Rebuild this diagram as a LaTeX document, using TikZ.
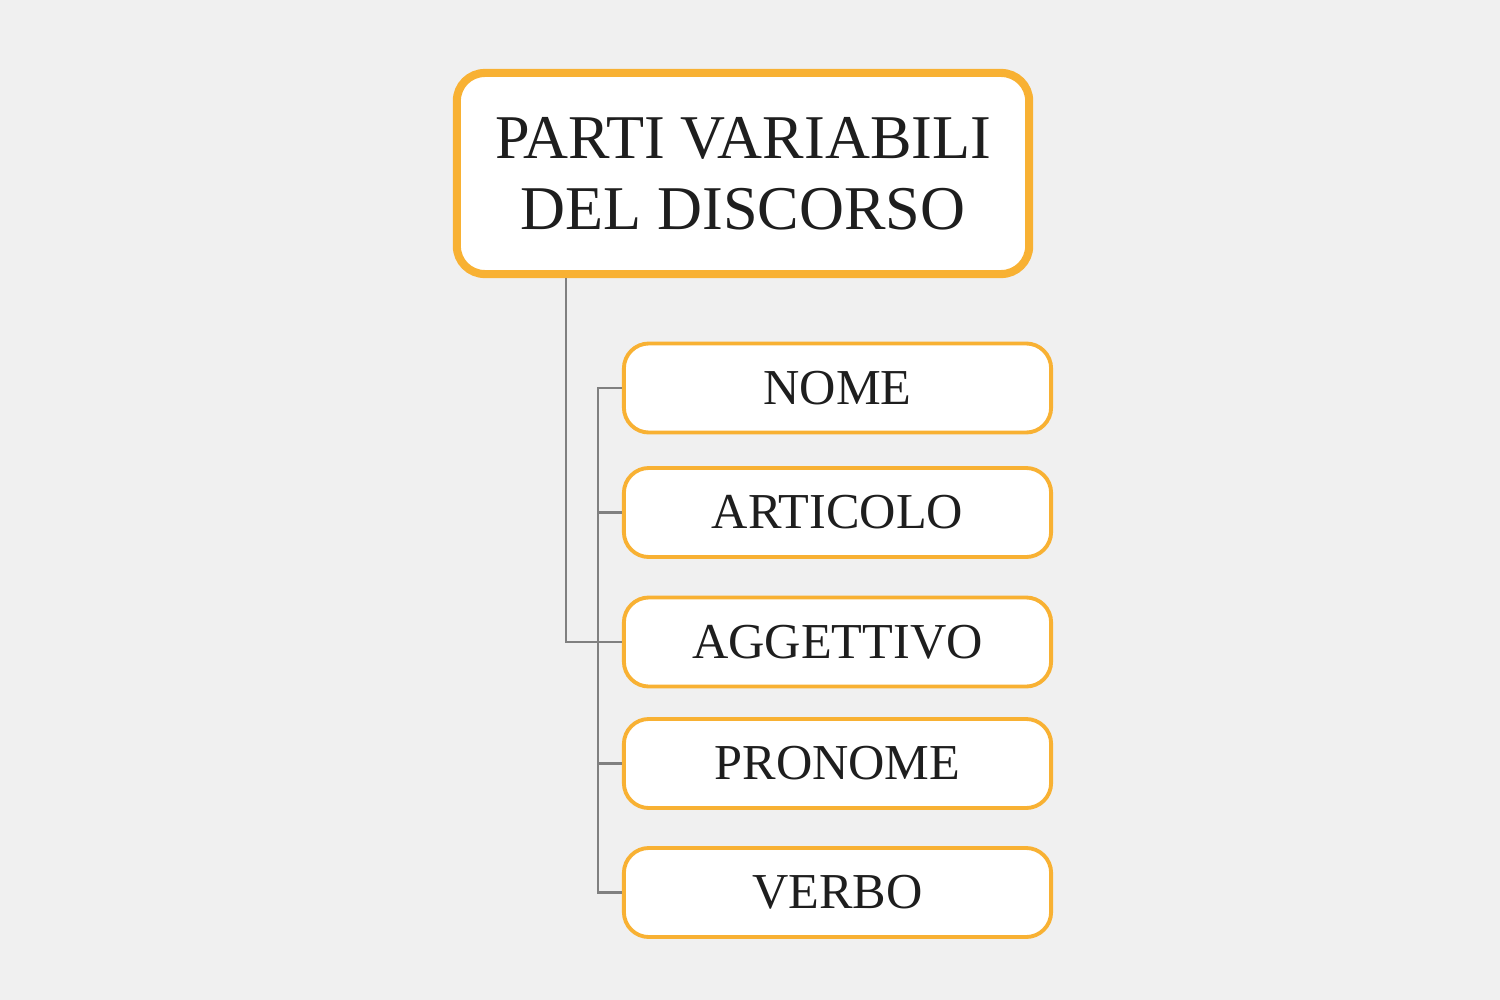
\documentclass[tikz,border=0pt]{standalone}
\usepackage{fontspec}
\setmainfont{Liberation Serif}
\definecolor{bg}{HTML}{F0F0F0}
\definecolor{orng}{HTML}{F8B133}
\definecolor{conn}{HTML}{808080}
\definecolor{ink}{HTML}{1E1E1E}
\begin{document}
\begin{tikzpicture}[x=0.01cm,y=-0.01cm,
  titlebox/.style={draw=orng,fill=white,line width=2.3pt,rounded corners=0.28cm,
    minimum width=5.72cm,minimum height=2.01cm,align=center,text=ink,
    font=\fontsize{17.7pt}{20.2pt}\selectfont,inner sep=0pt},
  itembox/.style={draw=orng,fill=white,line width=1.1pt,rounded corners=0.25cm,
    minimum width=4.27cm,minimum height=0.89cm,text=ink,
    font=\fontsize{14.3pt}{16pt}\selectfont,inner sep=0pt},
  link/.style={draw=conn,line width=0.6pt}]
\fill[bg] (0,0) rectangle (1500,1000);
\useasboundingbox (0,0) rectangle (1500,1000);
\coordinate (tx) at (566,0);
\coordinate (bx) at (598,0);
\node[titlebox] (top) at (743,173.5) {PARTI VARIABILI\\DEL DISCORSO};
\node[itembox] (nome) at (837.5,388) {NOME};
\node[itembox] (art) at (837.5,512.5) {ARTICOLO};
\node[itembox] (agg) at (837.5,642) {AGGETTIVO};
\node[itembox] (pro) at (837.5,763.5) {PRONOME};
\node[itembox] (verbo) at (837.5,892.5) {VERBO};
\draw[link] (top.south -| tx) |- (agg.west);
\draw[link] (nome.west) -- (nome.west -| bx) -- (verbo.west -| bx) -- (verbo.west);
\draw[link] (art.west -| bx) -- (art.west);
\draw[link] (pro.west -| bx) -- (pro.west);
\end{tikzpicture}
\end{document}
